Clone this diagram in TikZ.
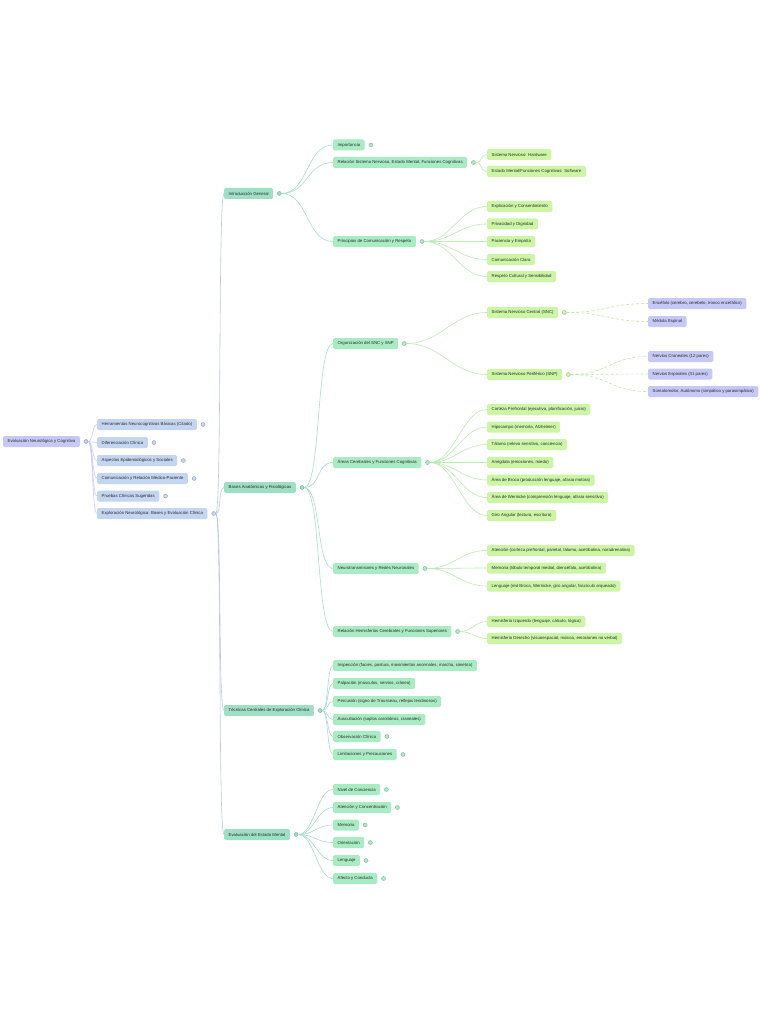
\documentclass[tikz,border=0pt]{standalone}
\usepackage{fontspec}
\setmainfont{Liberation Sans}
\definecolor{rootc}{HTML}{C7C9F5}
\definecolor{lonec}{HTML}{C4D5F1}
\definecolor{ltwoc}{HTML}{9EDFC5}
\definecolor{lthreec}{HTML}{A9EBC3}
\definecolor{lfourc}{HTML}{CCF5A6}
\definecolor{lfivec}{HTML}{C6C8F6}
\definecolor{lnroot}{HTML}{C9CBF2}
\definecolor{lnone}{HTML}{B8C8E4}
\definecolor{lntwo}{HTML}{A9DDCA}
\definecolor{lnthree}{HTML}{BDEBB6}
\definecolor{lnfour}{HTML}{C4E6A6}
\definecolor{txt}{HTML}{2A2A2A}
\tikzset{
  box/.style={rounded corners=1.5pt, inner xsep=4.5pt, inner ysep=0pt, minimum height=11pt,
    anchor=west, font=\fontsize{4.3}{5}\selectfont, text=txt},
  nroot/.style={box, fill=rootc},
  none/.style={box, fill=lonec},
  ntwo/.style={box, fill=ltwoc},
  nthree/.style={box, fill=lthreec},
  nfour/.style={box, fill=lfourc},
  nfive/.style={box, fill=lfivec},
  dot/.style={circle, inner sep=0pt, minimum size=4pt, fill=#1, draw=#1!70!black, line width=0.3pt},
  croot/.style={draw=lnroot, line width=0.6pt},
  cone/.style={draw=lnone, line width=0.6pt},
  ctwo/.style={draw=lntwo, line width=0.6pt},
  cthree/.style={draw=lnthree, line width=0.6pt},
  cfour/.style={draw=lnfour, line width=0.6pt, dash pattern=on 3pt off 2pt},
}
\newcommand\linkit[4]{\draw[#1] (#2.east) .. controls +(#4,0) and +(-#4,0) .. (#3.west);}
\newcommand\dotof[2]{\node[dot=#2] (#1d) at ([xshift=6pt]#1.east) {};}
\begin{document}
\begin{tikzpicture}[x=1pt,y=-1pt]
\useasboundingbox (0,0) rectangle (768,1024);
\fill[white] (0,0) rectangle (768,1024);

% root
\node[nroot] (root) at (3,441.5) {Evaluación Neurológica y Cognitiva};
\dotof{root}{rootc}

% level 1
\node[none] (h1) at (97,424.5) {Herramientas Neurocognitivas Básicas (Citado)};
\node[none] (h2) at (97,442.5) {Diferenciación Clínica};
\node[none] (h3) at (97,460.5) {Aspectos Epidemiológicos y Sociales};
\node[none] (h4) at (97,478.5) {Comunicación y Relación Médico-Paciente};
\node[none] (h5) at (97,496) {Pruebas Clínicas Sugeridas};
\node[none] (h6) at (97,513.5) {Exploración Neurológica: Bases y Evaluación Clínica};
\foreach \n in {h1,h2,h3,h4,h5,h6}{\dotof{\n}{lonec}}
\foreach \n in {h1,h2,h3,h4,h5,h6}{\linkit{croot}{rootd}{\n}{5}}

% level 2
\node[ntwo] (a) at (224,193.5) {Introducción General};
\node[ntwo] (b) at (224,487.5) {Bases Anatómicas y Fisiológicas};
\node[ntwo] (c) at (224,710.5) {Técnicas Centrales de Exploración Clínica};
\node[ntwo] (d) at (224,834.5) {Evaluación del Estado Mental};
\foreach \n in {a,b,c,d}{\dotof{\n}{ltwoc}}
\foreach \n in {a,b,c,d}{\linkit{cone}{h6d}{\n}{6}}

% level 3 - Introducción
\node[nthree] (a1) at (333,145) {Importancia};
\node[nthree] (a2) at (333,162.5) {Relación Sistema Nervioso, Estado Mental, Funciones Cognitivas};
\node[nthree] (a3) at (333,241.5) {Principios de Comunicación y Respeto};
% Bases
\node[nthree] (b1) at (333,343.5) {Organización del SNC y SNP};
\node[nthree] (b2) at (333,462.5) {Áreas Cerebrales y Funciones Cognitivas};
\node[nthree] (b3) at (333,568.5) {Neurotransmisores y Redes Neuronales};
\node[nthree] (b4) at (333,631.5) {Relación Hemisferios Cerebrales y Funciones Superiores};
% Técnicas
\node[nthree] (c1) at (333,665.5) {Inspección (facies, postura, movimientos anormales, marcha, simetría)};
\node[nthree] (c2) at (333,683.5) {Palpación (músculos, nervios, cráneo)};
\node[nthree] (c3) at (333,701.5) {Percusión (signo de Trousseau, reflejos tendinosos)};
\node[nthree] (c4) at (333,719.5) {Auscultación (soplos carotídeos, craneales)};
\node[nthree] (c5) at (333,736.5) {Observación Clínica};
\node[nthree] (c6) at (333,754.5) {Limitaciones y Precauciones};
% Evaluación
\node[nthree] (d1) at (333,789.5) {Nivel de Conciencia};
\node[nthree] (d2) at (333,807.5) {Atención y Concentración};
\node[nthree] (d3) at (333,825) {Memoria};
\node[nthree] (d4) at (333,842.5) {Orientación};
\node[nthree] (d5) at (333,860.5) {Lenguaje};
\node[nthree] (d6) at (333,878.5) {Afecto y Conducta};
\foreach \n in {a1,a2,a3,b1,b2,b3,b4,c5,c6,d1,d2,d3,d4,d5,d6}{\dotof{\n}{lthreec}}
\foreach \n in {a1,a2,a3}{\linkit{ctwo}{ad}{\n}{27}}
\foreach \n in {b1,b2,b3,b4}{\linkit{ctwo}{bd}{\n}{17}}
\foreach \n in {c1,c2,c3,c4,c5,c6}{\linkit{ctwo}{cd}{\n}{6}}
\foreach \n in {d1,d2,d3,d4,d5,d6}{\linkit{ctwo}{dd}{\n}{16}}

% level 4
\node[nfour] (a21) at (487,154.5) {Sistema Nervioso: Hardware};
\node[nfour] (a22) at (487,171.5) {Estado Mental/Funciones Cognitivas: Software};
\node[nfour] (a31) at (487,206.5) {Explicación y Consentimiento};
\node[nfour] (a32) at (487,224) {Privacidad y Dignidad};
\node[nfour] (a33) at (487,241.5) {Paciencia y Empatía};
\node[nfour] (a34) at (487,259.5) {Comunicación Clara};
\node[nfour] (a35) at (487,276.5) {Respeto Cultural y Sensibilidad};
\node[nfour] (b11) at (487,312.5) {Sistema Nervioso Central (SNC)};
\node[nfour] (b12) at (487,374.5) {Sistema Nervioso Periférico (SNP)};
\node[nfour] (b21) at (487,409.5) {Corteza Prefrontal (ejecutiva, planificación, juicio)};
\node[nfour] (b22) at (487,427) {Hipocampo (memoria, Alzheimer)};
\node[nfour] (b23) at (487,444.5) {Tálamo (relevo sensitivo, conciencia)};
\node[nfour] (b24) at (487,462.5) {Amígdala (emociones, miedo)};
\node[nfour] (b25) at (487,480) {Área de Broca (producción lenguaje, afasia motora)};
\node[nfour] (b26) at (487,497.5) {Área de Wernicke (comprensión lenguaje, afasia sensitiva)};
\node[nfour] (b27) at (487,515.5) {Giro Angular (lectura, escritura)};
\node[nfour] (b31) at (487,550.5) {Atención (corteza prefrontal, parietal, tálamo, acetilcolina, noradrenalina)};
\node[nfour] (b32) at (487,568) {Memoria (lóbulo temporal medial, diencéfalo, acetilcolina)};
\node[nfour] (b33) at (487,586) {Lenguaje (red Broca, Wernicke, giro angular, fascículo arqueado)};
\node[nfour] (b41) at (487,621.5) {Hemisferio Izquierdo (lenguaje, cálculo, lógica)};
\node[nfour] (b42) at (487,638.5) {Hemisferio Derecho (visuoespacial, música, emociones no verbal)};
\foreach \n in {b11,b12}{\dotof{\n}{lfourc}}
\foreach \n in {a21,a22}{\linkit{cthree}{a2d}{\n}{8}}
\foreach \n in {a31,a32,a33,a34,a35}{\linkit{cthree}{a3d}{\n}{28}}
\foreach \n in {b11,b12}{\linkit{cthree}{b1d}{\n}{35}}
\foreach \n in {b21,b22,b23,b24,b25,b26,b27}{\linkit{cthree}{b2d}{\n}{25}}
\foreach \n in {b31,b32,b33}{\linkit{cthree}{b3d}{\n}{27}}
\foreach \n in {b41,b42}{\linkit{cthree}{b4d}{\n}{12}}

% level 5
\node[nfive] (e1) at (648,303.5) {Encéfalo (cerebro, cerebelo, tronco encefálico)};
\node[nfive] (e2) at (648,321.5) {Médula Espinal};
\node[nfive] (e3) at (648,356.5) {Nervios Craneales (12 pares)};
\node[nfive] (e4) at (648,374) {Nervios Espinales (31 pares)};
\node[nfive] (e5) at (648,391.5) {Somatomotor, Autónomo (simpático y parasimpático)};
\foreach \n in {e1,e2}{\linkit{cfour}{b11d}{\n}{40}}
\foreach \n in {e3,e4,e5}{\linkit{cfour}{b12d}{\n}{38}}
\end{tikzpicture}
\end{document}
